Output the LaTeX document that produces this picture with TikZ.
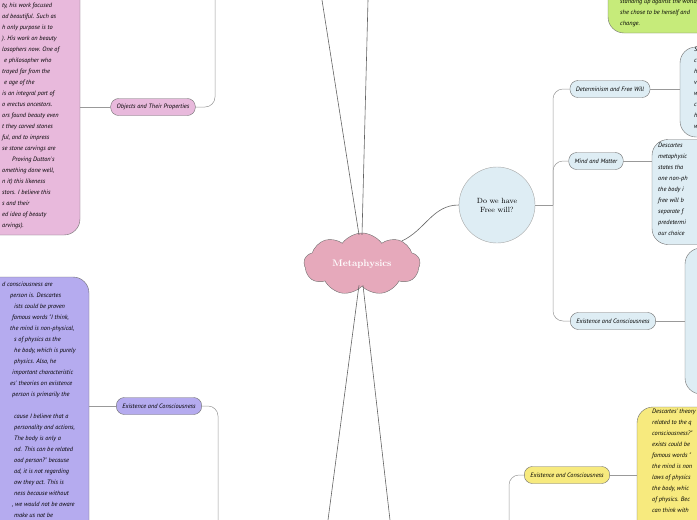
\documentclass[tikz,border=0pt]{standalone}
\usepackage{fontspec}
\newfontfamily\hand{PT Sans}
\usetikzlibrary{shapes.symbols}
\definecolor{pinkb}{HTML}{E8B9DC}
\definecolor{purpb}{HTML}{B5ABEF}
\definecolor{blueb}{HTML}{DEEDF4}
\definecolor{yelb}{HTML}{F7EA7E}
\definecolor{greenb}{HTML}{C6EB7A}
\definecolor{cloudc}{HTML}{E6A9BB}
\definecolor{edge}{HTML}{6E6E6E}
\tikzset{
  pill/.style={draw=edge, rounded corners=8, minimum height=17, inner xsep=6, font=\hand\itshape\fontsize{6.3}{7}\selectfont},
  bigbox/.style={draw=edge, rounded corners=16},
  body/.style={anchor=north west, align=left, inner sep=0, font=\hand\itshape\fontsize{6.3}{11}\selectfont},
  conn/.style={draw=edge!70, line width=0.5pt},
  main/.style={draw=edge!90!black, line width=0.6pt}
}
\begin{document}
\begin{tikzpicture}[x=1pt,y=-1pt]
\useasboundingbox (0,0) rectangle (697,520);
\clip (0,0) rectangle (697,520);
% centre
\node[cloud, cloud puffs=9, cloud puff arc=110, aspect=2.2, draw=edge, fill=cloudc, minimum width=116, minimum height=62, inner sep=0, font=\bfseries\fontsize{9.5}{11}\selectfont, text=white] (cl) at (362,264) {Metaphysics};
\node[circle, draw=edge!60, fill=blueb, minimum size=76, align=center, inner sep=0, font=\fontsize{7.5}{9}\selectfont] (q) at (497,205) {Do we have\\Free will?};
\coordinate (t1) at (322,0); \coordinate (t2) at (368,0);
\coordinate (b1) at (328,520); \coordinate (b2) at (390,520);
\draw[main] (cl.north) ++(-3,2) coordinate (cn1) -- (t1);
\draw[main] (cn1) ++(3,0) -- (t2);
\draw[main] (cl.south) ++(-3,-1) coordinate (cs1) -- (b1);
\draw[main] (cs1) ++(4,0) -- (b2);
\draw[main] (cl.30) to[out=25,in=180] (q.west);
% left top pink
\node[bigbox, fill=pinkb, minimum width=130, minimum height=260] (pb) at (15,105) {};
\node[body] (pt) at (2,3) {ty, his work focused\\ad beautiful. Such as\\h only purpose is to\\). His work on beauty\\losophers now. One of\\\hspace{2pt}e philosopher who\\trayed far from the\\\hspace{2pt}e age of the\\is an integral part of\\o erectus ancestors.\\ors found beauty even\\t they carved stones\\ful, and to impress\\se stone carvings are\\\hspace{10pt}Proving Dutton's\\omething done well,\\n it) this likeness\\stors. I believe this\\s and their\\ed idea of beauty\\arvings).};
\node[pill, fill=pinkb] (op) at (153,107) {Objects and Their Properties};
\coordinate (opt) at (215,0);
\draw[conn] (op.west) -- (op.west -| pb.east);
\draw[conn, rounded corners=10] (op.east) -| (opt);
% left purple
\node[bigbox, fill=purpb, minimum width=140, minimum height=260] (ub) at (19,407) {};
\node[body] (ut) at (2,282) {d consciousness are\\\hspace{8pt}person is. Descartes\\\hspace{12pt}ists could be proven\\\hspace{10pt}famous words "I think,\\\hspace{8pt}the mind is non-physical,\\\hspace{12pt}s of physics as the\\\hspace{12pt}he body, which is purely\\\hspace{12pt}physics. Also, he\\\hspace{10pt}important characteristic\\\hspace{8pt}es' theories on existence\\\hspace{10pt}person is primarily the\\ \\\hspace{12pt}cause I believe that a\\\hspace{12pt}personality and actions,\\\hspace{12pt}The body is only a\\\hspace{12pt}nd. This can be related\\\hspace{12pt}ood person?" because\\\hspace{12pt}ad, it is not regarding\\\hspace{12pt}ow they act. This is\\\hspace{12pt}ness because without\\\hspace{10pt}, we would not be aware\\\hspace{12pt}make us not be};
\node[pill, fill=purpb] (ec1) at (159,406) {Existence and Consciousness};
\coordinate (ecb) at (218,520);
\draw[conn] (ec1.west) -- (ec1.west -| ub.east);
\draw[conn, rounded corners=10] (ec1.east) -| (ecb);
% right green
\node[bigbox, fill=greenb, minimum width=120, minimum height=60] (gb) at (668,3) {};
\node[body] (gt) at (620,-1) {standing up against the world,\\she chose to be herself and\\change.};
% right pills
\coordinate (j) at (553,205);
\node[pill, fill=blueb] (dfw) at (610,89) {Determinism and Free Will};
\node[pill, fill=blueb] (mm) at (596,161) {Mind and Matter};
\node[pill, fill=blueb] (ec2) at (613,321) {Existence and Consciousness};
\draw[conn] (q.east) -- (j);
\draw[conn, rounded corners=10] (j) |- (dfw.west);
\draw[conn, rounded corners=10] (j) |- (mm.west);
\draw[conn, rounded corners=10] (j) |- (ec2.west);
\node[bigbox, fill=blueb, minimum width=60, minimum height=90] (db) at (710,92) {};
\node[body] (dt) at (694,47) {S\\c\\h\\v\\w\\c\\h\\w};
\draw[conn] (dfw.east) -- (dfw.east -| db.west);
\node[bigbox, fill=blueb, minimum width=90, minimum height=105] (mb) at (697,192) {};
\node[body] (mt) at (658,143) {Descartes\\metaphysic\\states tha\\one non-ph\\the body i\\free will b\\separate f\\predetermi\\our choice};
\draw[conn] (mm.east) -- (mm.east -| mb.west);
\node[bigbox, fill=blueb, minimum width=60, minimum height=146] (eb) at (715,321) {};
\draw[conn] (ec2.east) -- (ec2.east -| eb.west);
% yellow
\node[bigbox, fill=yelb, minimum width=120, minimum height=140] (yb) at (697,477) {};
\node[body] (yt) at (652,409) {Descartes' theory\\related to the q\\consciousness?"\\exists could be\\famous words "\\the mind is non\\laws of physics\\the body, whic\\of physics. Bec\\can think with};
\node[pill, fill=yelb] (ec3) at (567,475) {Existence and Consciousness};
\coordinate (ec3b) at (509,520);
\draw[conn] (ec3.east) -- (ec3.east -| yb.west);
\draw[conn, rounded corners=10] (ec3.west) -| (ec3b);
\end{tikzpicture}
\end{document}
